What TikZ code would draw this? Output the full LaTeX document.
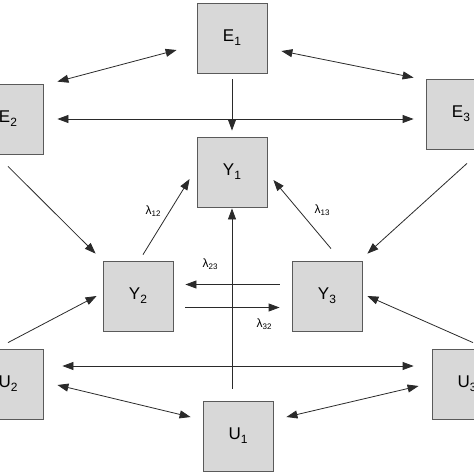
\documentclass[tikz,border=0pt]{standalone}
\usepackage{fontspec}
\setmainfont{Liberation Sans}
\usetikzlibrary{arrows.meta,calc}
\definecolor{boxfill}{HTML}{D8D8D8}
\definecolor{boxline}{HTML}{5A5A5A}
\definecolor{arrline}{HTML}{2A2A2A}
\newcommand{\bsub}[1]{\raisebox{-4pt}{\fontsize{12}{12}\selectfont #1}}
\newcommand{\lsub}[1]{\raisebox{-2pt}{\fontsize{8}{8}\selectfont #1}}
\begin{document}
\begin{tikzpicture}[x=1pt,y=-1pt,
    box/.style={draw=boxline,fill=boxfill,line width=0.8pt,minimum width=70pt,minimum height=70pt,inner sep=0pt,font=\fontsize{17}{18}\selectfont},
    lam/.style={font=\fontsize{12}{12}\selectfont,inner sep=0pt},
    con/.style={draw=arrline,line width=0.8pt,-{Triangle[length=11pt,width=8pt]}},
    bicon/.style={draw=arrline,line width=0.8pt,{Triangle[length=11pt,width=8pt]}-{Triangle[length=11pt,width=8pt]}}]
    \useasboundingbox (0,0) rectangle (474,474);
    % boxes
    \node[box] (e1) at (232,38) {E\bsub{1}};
    \node[box] (y1) at (232,172) {Y\bsub{1}};
    \node[box] (e2) at (8,119) {E\bsub{2}};
    \node[box] (e3) at (461,114) {E\bsub{3}};
    \node[box] (y2) at (138,296) {Y\bsub{2}};
    \node[box] (y3) at (327,296) {Y\bsub{3}};
    \node[box] (u2) at (8,384) {U\bsub{2}};
    \node[box] (u3) at (467,384) {U\bsub{3}};
    \node[box] (u1) at (238,436) {U\bsub{1}};
    % top part
    \draw[bicon] ($(e1.west)+(-20,12)$) -- ($(e2.north east)+(14,-2)$);
    \draw[bicon] ($(e1.east)+(14,13)$) -- ($(e3.north west)+(-12,-1)$);
    \draw[bicon,shorten <=14pt,shorten >=12pt] (e2.east) -- (e2.east -| e3.west);
    \draw[con,shorten <=6pt,shorten >=6pt] (e1.south) -- (y1.north);
    \draw[con] ($(e2.south)+(0,12)$) -- ($(y2.north west)+(-7,-7)$);
    \draw[con] ($(e3.south)+(6,14)$) -- ($(y3.north east)+(5,-7)$);
    % middle part
    \draw[con] ($(y2.north)+(5,-6)$) -- ($(y1.west)+(-7,7)$);
    \draw[con] ($(y3.north)+(4,-12)$) -- ($(y1.east)+(6,8)$);
    \draw[con,shorten <=12pt,shorten >=12pt] ([yshift=11.5pt]y3.west) -- ([yshift=11.5pt]y2.east);
    \draw[con,shorten <=12pt,shorten >=12pt] ([yshift=-11.5pt]y2.east) -- ([yshift=-11.5pt]y3.west);
    \node[lam] (l12) at (153,211) {λ\lsub{12}};
    \node[lam] (l13) at (322,210) {λ\lsub{13}};
    \node[lam] (l23) at (210,264) {λ\lsub{23}};
    \node[lam] (l32) at (264,324) {λ\lsub{32}};
    % bottom part
    \draw[con,shorten <=12pt,shorten >=1pt] (u1.north -| y1.south) -- (y1.south);
    \draw[con] ($(u2.north)+(0,-6)$) -- ($(y2.west)+(-6,0)$);
    \draw[con] ($(u3.north)+(6,-6)$) -- ($(y3.east)+(5,0)$);
    \draw[bicon,shorten <=19pt,shorten >=18pt] ([yshift=18pt]u2.east) -- ([yshift=18pt]u2.east -| u3.west);
    \draw[bicon] ($(u2.east)+(14,1)$) -- ($(u1.west)+(-12,-19)$);
    \draw[bicon] ($(u1.east)+(13,-19)$) -- ($(u3.west)+(-13,2)$);
\end{tikzpicture}
\end{document}
